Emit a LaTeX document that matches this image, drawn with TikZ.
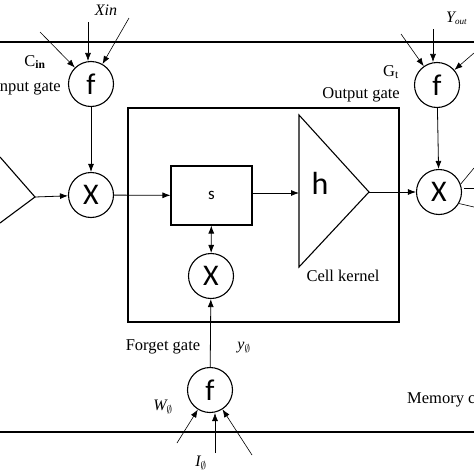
\documentclass[tikz,border=0pt]{standalone}
\usepackage{fontspec}
\setmainfont{Liberation Serif}
\newfontfamily\symfont{Carlito}
\usetikzlibrary{arrows.meta}
\begin{document}
\begin{tikzpicture}[x=1pt,y=-1pt,
  gatecirc/.style={circle,draw,line width=1.1pt,minimum size=45pt,inner sep=0pt,font=\symfont\fontsize{30}{30}\selectfont},
  arr/.style={-{Latex[length=8pt,width=6pt]},line width=0.8pt},
  thinarr/.style={-{Latex[length=8pt,width=6pt]},line width=0.6pt},
  lbl/.style={font=\fontsize{16.5}{16.5}\selectfont,inner sep=0pt},
  mlbl/.style={font=\fontsize{16}{16}\selectfont\itshape,inner sep=0pt}]
\useasboundingbox (0,0) rectangle (474,474);
\clip (0,0) rectangle (474,474);
% memory cell outer lines
\draw[line width=1.6pt] (0,42) -- (474,42);
\draw[line width=1.6pt] (0,432) -- (474,432);
% inner box
\draw[line width=1.1pt] (128,108) rectangle (399,322);
% nodes
\node[gatecirc] (fin) at (91,84) {f};
\node[gatecirc] (xin) at (91,195) {X};
\node[draw,line width=1.1pt,minimum width=81pt,minimum height=59pt,inner sep=0pt,font=\symfont\fontsize{17}{17}\selectfont] (sbox) at (211.5,195.5) {s};
\node[gatecirc] (xfg) at (211,276) {X};
\node[gatecirc] (ffg) at (210,390) {f};
\node[gatecirc] (xout) at (439,192) {X};
\node[gatecirc] (fout) at (437,85) {f};
% h triangle
\coordinate (htop) at (299,115);
\coordinate (hbot) at (299,267);
\coordinate (htip) at (369,192);
\coordinate (hin) at (299,193);
\draw[line width=1.1pt] (htop) -- (htip) -- (hbot) -- cycle;
\node[font=\symfont\fontsize{32}{32}\selectfont,inner sep=0pt] (hlab) at (320,183) {h};
% left triangle
\coordinate (ltop) at (0,157);
\coordinate (ltip) at (35,197);
\coordinate (lbot) at (0,223);
\draw[line width=1.1pt] (ltop) -- (ltip) -- (lbot);
% connectors
\draw[arr] (ltip) -- (xin);
\draw[arr] (fin) -- (xin);
\draw[arr] (xin) -- (sbox);
\draw[arr] (sbox.east |- hin) -- (hin);
\draw[arr] (htip) -- (xout);
\draw[arr] (fout) -- (xout);
\draw[{Latex[length=8pt,width=6pt]}-{Latex[length=8pt,width=6pt]},line width=0.8pt] (sbox) -- (xfg);
\draw[arr] (ffg) -- (xfg);
% input gate inputs
\coordinate (i1) at (40,32);
\coordinate (i2) at (88,22);
\coordinate (i3) at (129,18);
\draw[thinarr] (i1) -- (fin);
\draw[thinarr] (i2) -- (fin.north -| i2);
\draw[thinarr] (i3) -- (fin);
% output gate inputs
\coordinate (o1) at (401,34);
\coordinate (o2) at (433,29);
\coordinate (o3) at (474,53);
\draw[thinarr] (o1) -- (fout);
\draw[thinarr] (o2) -- (fout.north -| o2);
\draw[thinarr] (o3) -- (fout);
% forget gate inputs
\coordinate (g1) at (177,443);
\coordinate (g2) at (215,453);
\coordinate (g3) at (252,455);
\draw[thinarr] (g1) -- (ffg);
\draw[thinarr] (g2) -- (ffg.south -| g2);
\draw[thinarr] (g3) -- (ffg);
% output lines
\coordinate (r1) at (474,168);
\coordinate (r2) at (474,188);
\coordinate (r3) at (474,207);
\draw[line width=0.6pt] (xout.20) -- (r1);
\draw[line width=0.6pt] (xout.east) ++(2,-4) coordinate (xr2) -- (r2);
\draw[line width=0.6pt] (xout.-30) -- (r3);
% labels
\node[mlbl] (txin) at (106,10) {Xin};
\node[lbl] (tcin) at (35,62) {C\textsubscript{\textbf{in}}};
\node[lbl,anchor=east] (tin) at (61,88) {Input gate};
\node[lbl,anchor=east] (tout) at (400,95) {Output gate};
\node[lbl] (tgt) at (391,72) {G\textsubscript{t}};
\node[mlbl,anchor=west] (tyout) at (446,18) {Y{\fontsize{13}{13}\selectfont\textsubscript{out}}};
\node[lbl] (tck) at (343,276) {Cell kernel};
\node[lbl] (tfg) at (163,347) {Forget gate};
\node[mlbl] (tyf) at (244,348) {y\textsubscript{$\emptyset$}};
\node[mlbl] (twf) at (163,407) {W\textsubscript{$\emptyset$}};
\node[mlbl] (tif) at (201,463) {I\textsubscript{$\emptyset$}};
\node[lbl,anchor=west] (tmem) at (407,400) {Memory cell};
\end{tikzpicture}
\end{document}
